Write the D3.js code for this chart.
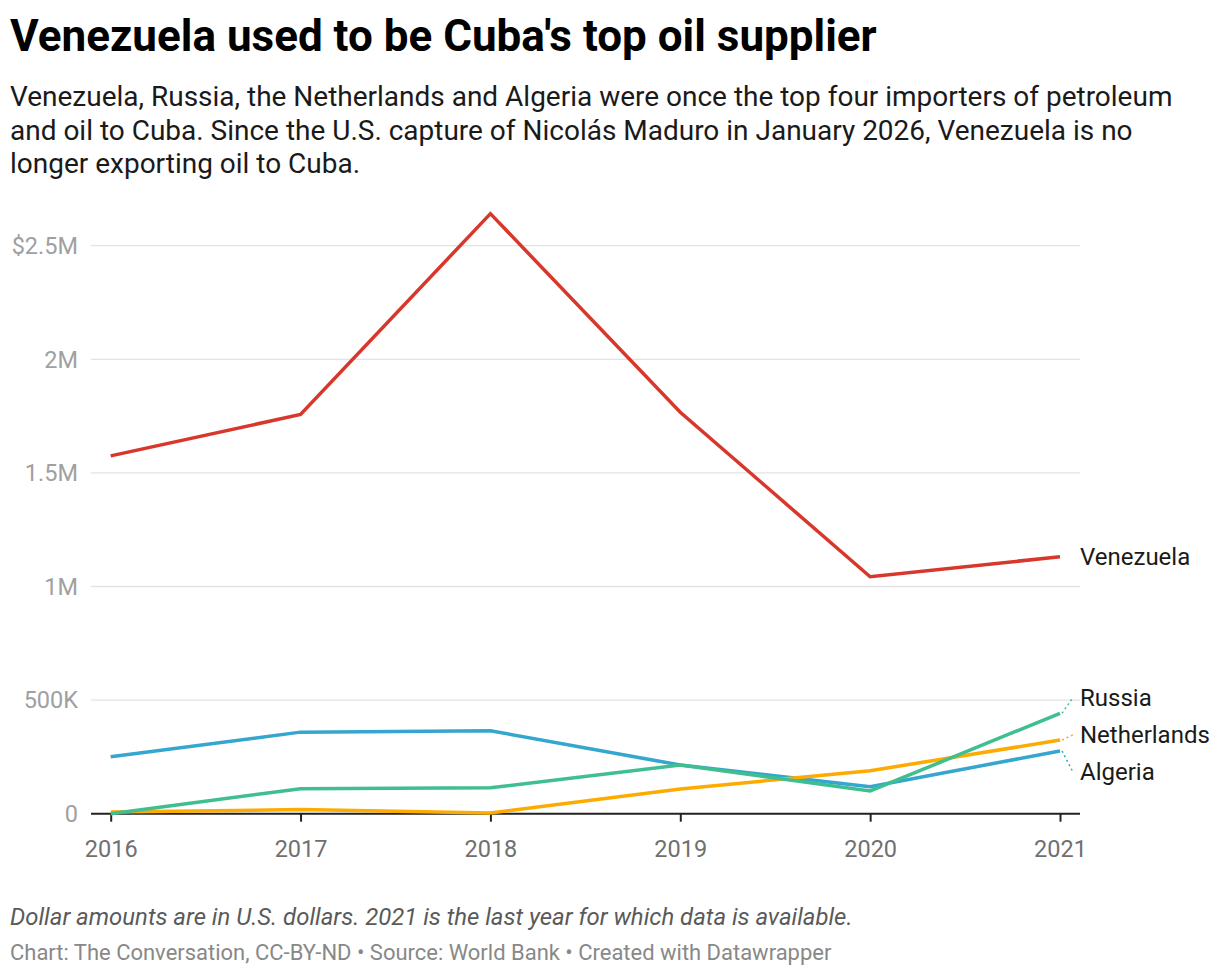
<!DOCTYPE html>
<html><head><meta charset="utf-8">
<script src="https://cdn.jsdelivr.net/npm/d3@7"></script>
<style>
html,body{margin:0;padding:0;background:#fff;}
text{font-family:Roboto,"Noto Sans",sans-serif;}
</style></head>
<body>
<svg id="c" width="1220" height="978"></svg>
<script>
const years = [2016, 2017, 2018, 2019, 2020, 2021];
const venezuela = [1575000, 1757000, 2641000, 1767000, 1043000, 1131000];
const russia = [0, 110000, 114000, 214000, 100000, 442000];
const netherlands = [7000, 18000, 3000, 109000, 189000, 324000];
const algeria = [251000, 359000, 365000, 214000, 119000, 276000];
const yTicks = [0, 500000, 1000000, 1500000, 2000000, 2500000];
const yTickLabels = ["0", "500K", "1M", "1.5M", "2M", "$2.5M"];
const seriesNames = ["Venezuela", "Russia", "Netherlands", "Algeria"];
const seriesColors = ["#d8372b", "#3fbf8f", "#fdab00", "#35a6cd"];

const series = [
  {name: seriesNames[0], values: venezuela, color: seriesColors[0]},
  {name: seriesNames[1], values: russia, color: seriesColors[1]},
  {name: seriesNames[2], values: netherlands, color: seriesColors[2]},
  {name: seriesNames[3], values: algeria, color: seriesColors[3]}
];

const svg = d3.select("#c");
const x = d3.scalePoint().domain(years).range([110.7, 1060]);
const y = d3.scaleLinear().domain([0, 2500000]).range([813.7, 245.7]);
const gridL = 91, gridR = 1080;

// fit a text to a target width by adjusting font size
function fit(sel, w) {
  const cur = sel.node().getComputedTextLength();
  const fs = parseFloat(sel.attr("font-size"));
  sel.attr("font-size", fs * w / cur);
}

// Title & subtitle
const title = svg.append("text").attr("x", 10).attr("y", 51).attr("font-size", 44).attr("font-weight", 700)
  .attr("fill", "#000").text("Venezuela used to be Cuba's top oil supplier");
fit(title, 867);
const sub = ["Venezuela, Russia, the Netherlands and Algeria were once the top four importers of petroleum",
  "and oil to Cuba. Since the U.S. capture of Nicolás Maduro in January 2026, Venezuela is no",
  "longer exporting oil to Cuba."];
const s0 = svg.append("text").attr("x", 10).attr("y", 106).attr("font-size", 28).attr("fill", "#1a1a1a").text(sub[0]);
fit(s0, 1163);
const subFs = s0.attr("font-size");
sub.slice(1).forEach((s, i) => svg.append("text").attr("x", 10).attr("y", 106 + (i + 1) * 33.6).attr("font-size", subFs)
  .attr("fill", "#1a1a1a").text(s));

// Gridlines & y labels
const gy = svg.append("g");
yTicks.forEach((t, i) => {
  if (t !== 0) gy.append("line").attr("x1", gridL).attr("x2", gridR).attr("y1", y(t)).attr("y2", y(t))
    .attr("stroke", "#e3e3e3").attr("stroke-width", 1.3);
  gy.append("text").attr("x", 78).attr("y", y(t)).attr("dy", "0.35em").attr("text-anchor", "end")
    .attr("font-size", 23.5).attr("fill", "#a0a0a0").text(yTickLabels[i]);
});

// x axis
const xAxis = d3.axisBottom(x).tickSize(8).tickPadding(0).tickFormat(d => d);
const gx = svg.append("g").attr("transform", `translate(0,${y(0)})`).call(xAxis);
gx.select(".domain").attr("d", `M${gridL},0H${gridR}`).attr("stroke", "#222").attr("stroke-width", 2);
gx.selectAll(".tick line").attr("stroke", "#222").attr("stroke-width", 2);
gx.selectAll(".tick text").attr("font-size", 23.5).attr("fill", "#707070").attr("font-family", "Roboto")
  .attr("y", 857.3 - 813.7).attr("dy", 0);

// Lines (Venezuela drawn last, on top)
const line = d3.line().x((d, i) => x(years[i])).y(d => y(d));
[...series].reverse().forEach(s => {
  svg.append("path").attr("d", line(s.values)).attr("fill", "none").attr("stroke", s.color)
    .attr("stroke-width", 3.5).attr("stroke-linejoin", "miter").attr("stroke-linecap", "butt");
});

// Labels
const lx = x(years[years.length - 1]);
const last = i => y(series[i].values[years.length - 1]);
svg.append("text").attr("x", 1080).attr("y", last(0)).attr("dy", "0.35em").attr("font-size", 24)
  .attr("fill", "#1a1a1a").text(series[0].name);
const small = [1, 2, 3];
const mean = d3.mean(small, i => last(i));
const spacing = 37.3;
small.forEach((si, k) => {
  const ly = mean + (k - 1) * spacing;
  const dy0 = last(si);
  svg.append("line").attr("x1", lx + 2).attr("y1", dy0).attr("x2", 1073).attr("y2", ly)
    .attr("stroke", series[si].color).attr("stroke-width", 1.5).attr("stroke-dasharray", "2,3");
  svg.append("text").attr("x", 1080).attr("y", ly).attr("dy", "0.35em").attr("font-size", 24)
    .attr("fill", "#1a1a1a").text(series[si].name);
});

// Footer
const f1 = svg.append("text").attr("x", 10).attr("y", 925).attr("font-size", 23).attr("font-style", "italic")
  .attr("fill", "#5a5a5a").text("Dollar amounts are in U.S. dollars. 2021 is the last year for which data is available.");
fit(f1, 843);
const f2 = svg.append("text").attr("x", 10).attr("y", 960).attr("font-size", 21).attr("fill", "#888")
  .text("Chart: The Conversation, CC-BY-ND • Source: World Bank • Created with Datawrapper");
fit(f2, 822);
</script>
</body></html>
